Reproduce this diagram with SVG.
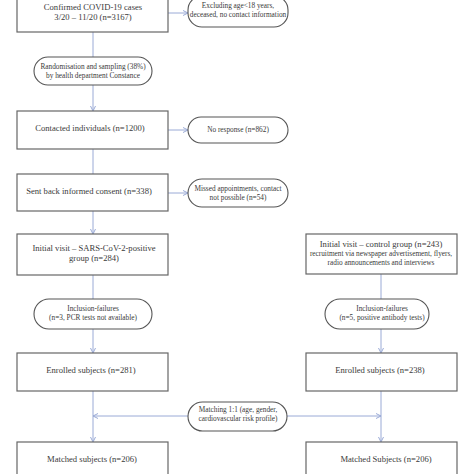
<svg xmlns="http://www.w3.org/2000/svg" width="474" height="474" viewBox="0 0 474 474">
<defs>
<marker id="arr" viewBox="0 0 6 6" refX="5.5" refY="3" markerWidth="6" markerHeight="6" markerUnits="userSpaceOnUse" orient="auto">
<path d="M0.5,0.5 L5.5,3 L0.5,5.5" fill="none" stroke="#9aaad6" stroke-width="1"/>
</marker>
<style>
.box{fill:#fff;stroke:#666;stroke-width:1.2}
.ov{fill:#fff;stroke:#555;stroke-width:1.1}
.t{font-family:"Liberation Serif","Times New Roman",serif;fill:#3a3a3a;text-anchor:middle}
.m{font-size:8.6px}
.s{font-size:7.3px}
.c{stroke:#9aaad6;stroke-width:1;fill:none}
</style>
</defs>
<rect width="474" height="474" fill="#fff"/>
<g id="connectors">
<line class="c" x1="168" y1="13" x2="188" y2="13" marker-end="url(#arr)"/>
<line class="c" x1="93" y1="32" x2="93" y2="57"/>
<line class="c" x1="93" y1="85" x2="93" y2="111" marker-end="url(#arr)"/>
<line class="c" x1="168" y1="130" x2="188" y2="130" marker-end="url(#arr)"/>
<line class="c" x1="93" y1="149" x2="93" y2="174"/>
<line class="c" x1="168" y1="193" x2="188" y2="193" marker-end="url(#arr)"/>
<line class="c" x1="93" y1="211" x2="93" y2="234" marker-end="url(#arr)"/>
<line class="c" x1="93" y1="275" x2="93" y2="299"/>
<line class="c" x1="381" y1="274" x2="381" y2="299"/>
<line class="c" x1="93" y1="329" x2="93" y2="353" marker-end="url(#arr)"/>
<line class="c" x1="381" y1="329" x2="381" y2="353" marker-end="url(#arr)"/>
<line class="c" x1="93" y1="391" x2="93" y2="442" marker-end="url(#arr)"/>
<line class="c" x1="381" y1="391" x2="381" y2="442" marker-end="url(#arr)"/>
<line class="c" x1="188" y1="416" x2="93" y2="416" marker-end="url(#arr)"/>
<line class="c" x1="287" y1="416" x2="381" y2="416" marker-end="url(#arr)"/>
</g>
<g id="confirmed">
<rect class="box" x="17" y="-6" width="151" height="38"/>
<text class="t m" x="93" y="10">Confirmed COVID-19 cases</text>
<text class="t m" x="93" y="20">3/20 – 11/20 (n=3167)</text>
</g>
<g id="excluding">
<rect class="ov" x="188" y="-4" width="100" height="31" rx="14"/>
<text class="t s" x="238" y="8">Excluding age&lt;18 years,</text>
<text class="t s" x="238" y="17">deceased, no contact information</text>
</g>
<g id="randomisation">
<rect class="ov" x="34" y="57" width="118" height="28" rx="14"/>
<text class="t s" x="93" y="69">Randomisation and sampling (38%)</text>
<text class="t s" x="93" y="78">by health department Constance</text>
</g>
<g id="contacted">
<rect class="box" x="17" y="111" width="151" height="38"/>
<text class="t m" x="90" y="131">Contacted individuals (n=1200)</text>
</g>
<g id="noresponse">
<rect class="ov" x="188" y="117" width="100" height="26" rx="13"/>
<text class="t s" x="238" y="132">No response (n=862)</text>
</g>
<g id="consent">
<rect class="box" x="17" y="174" width="151" height="37"/>
<text class="t m" x="89" y="194">Sent back informed consent (n=338)</text>
</g>
<g id="missed">
<rect class="ov" x="188" y="179" width="100" height="28" rx="14"/>
<text class="t s" x="238" y="191">Missed appointments, contact</text>
<text class="t s" x="238" y="200">not possible (n=54)</text>
</g>
<g id="initial-positive">
<rect class="box" x="17" y="234" width="151" height="41"/>
<text class="t m" x="94" y="251">Initial visit – SARS-CoV-2-positive</text>
<text class="t m" x="94" y="261">group (n=284)</text>
</g>
<g id="initial-control">
<rect class="box" x="306" y="234" width="151" height="40"/>
<text class="t m" x="381" y="247">Initial visit – control group (n=243)</text>
<text class="t s" x="381" y="256">recruitment via newspaper advertisement, flyers,</text>
<text class="t s" x="381" y="265">radio announcements and interviews</text>
</g>
<g id="inclusion-positive">
<rect class="ov" x="34" y="299" width="118" height="30" rx="15"/>
<text class="t s" x="93" y="311">Inclusion-failures</text>
<text class="t s" x="93" y="320">(n=3, PCR tests not available)</text>
</g>
<g id="inclusion-control">
<rect class="ov" x="325" y="299" width="104" height="30" rx="15"/>
<text class="t s" x="382" y="311">Inclusion-failures</text>
<text class="t s" x="382" y="320">(n=5, positive antibody tests)</text>
</g>
<g id="enrolled-positive">
<rect class="box" x="17" y="353" width="151" height="38"/>
<text class="t m" x="91" y="373">Enrolled subjects (n=281)</text>
</g>
<g id="enrolled-control">
<rect class="box" x="306" y="353" width="151" height="38"/>
<text class="t m" x="380" y="373">Enrolled subjects (n=238)</text>
</g>
<g id="matching">
<rect class="ov" x="188" y="402" width="99" height="29" rx="14.5"/>
<text class="t s" x="238" y="412">Matching 1:1 (age, gender,</text>
<text class="t s" x="238" y="421">cardiovascular risk profile)</text>
</g>
<g id="matched-positive">
<rect class="box" x="17" y="442" width="151" height="40"/>
<text class="t m" x="92" y="462">Matched subjects (n=206)</text>
</g>
<g id="matched-control">
<rect class="box" x="306" y="442" width="151" height="40"/>
<text class="t m" x="386" y="462">Matched Subjects (n=206)</text>
</g>
</svg>
